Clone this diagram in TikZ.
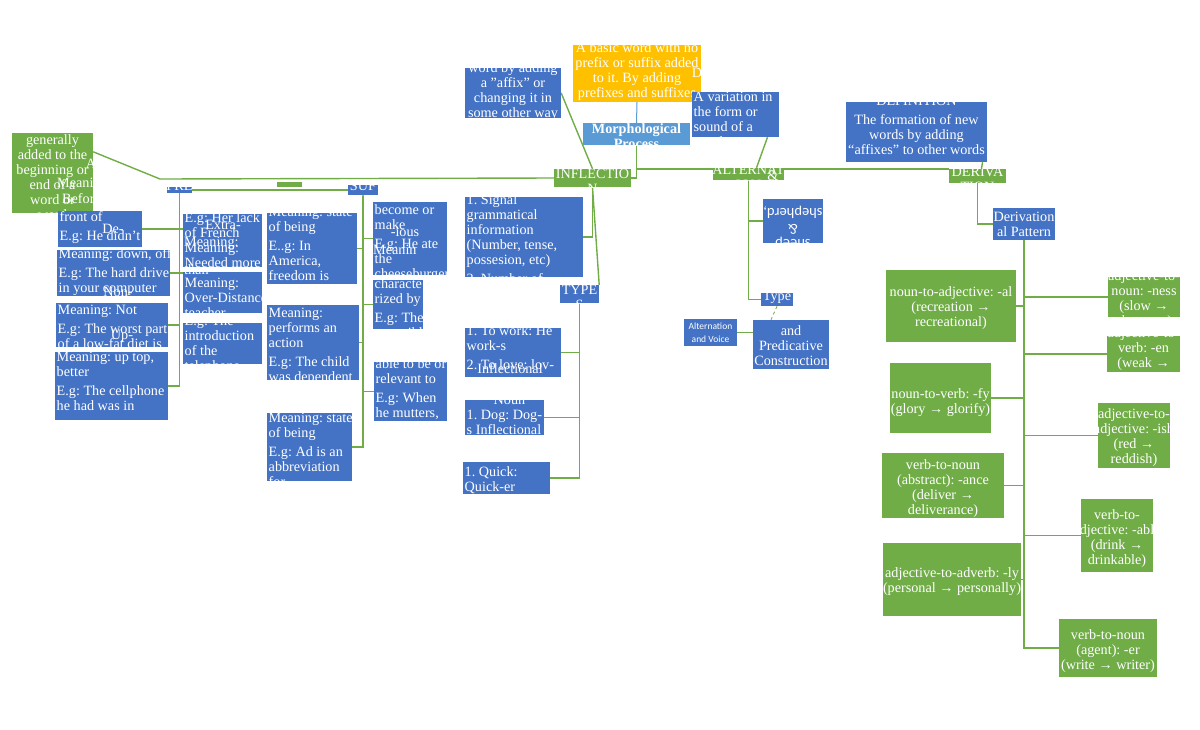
\documentclass[tikz,border=0pt]{standalone}
\usepackage{fontspec}
\setmainfont{Liberation Serif}
\newfontfamily\sansf{Carlito}
\usetikzlibrary{fit}
\pgfdeclarelayer{bg}
\pgfsetlayers{bg,main}
\definecolor{blu}{HTML}{4472C4}
\definecolor{grn}{HTML}{70AD47}
\definecolor{orng}{HTML}{FFC000}
\definecolor{lblu}{HTML}{5B9BD5}
\frenchspacing
\tikzset{
 txt/.style={text=white, font=\fontsize{14.2}{15}\selectfont, inner sep=0pt},
 ln/.style={draw=grn, line width=1.4pt},
 ov/.style={txt},
}
\def\bxleftword{left}
% name, x1, y1, x2, y2, fill, first-line centre y, align, text
\newcommand\bx[9]{%
 \fill[#6] (#2,#3) rectangle (#4,#5);
 \node[inner sep=0pt, fit={(#2,#3)(#4,#5)}] (#1) {};
 \begin{scope}
 \clip (#2,#3) rectangle (#4,#5);
 \pgfmathsetmacro\bxl{#2+1.5}
 \pgfmathsetmacro\bxc{(#2+#4)/2}
 \pgfmathsetmacro\bxt{#7-5}
 \def\bxarg{#8}%
 \ifx\bxarg\bxleftword
 \node[txt, anchor=north west, align=left] (#1-t) at (\bxl,\bxt) {#9};
 \else
 \node[txt, anchor=north, align=center] (#1-t) at (\bxc,\bxt) {#9};
 \fi
 \end{scope}}
\begin{document}
\begin{tikzpicture}[x=1pt,y=-1pt]
\useasboundingbox (0,0) rectangle (1200,729);
% left part
\bx{tlg}{12}{133}{93}{213}{grn}{139}{center}{generally\\added to the\\beginning or\\end of a\\word or\\word}
\bx{b1}{58}{211}{142}{247}{blu}{216}{left}{front of\\[4pt]E.g: He didn't}
\bx{b2}{57}{250}{170}{296}{blu}{253}{left}{Meaning: down, off\\[4pt]E.g: The hard drive\\in your computer}
\bx{b3}{56}{303}{168}{347}{blu}{310}{left}{Meaning: Not\\[4pt]E.g: The worst part\\of a low-fat diet is}
\bx{b4}{55}{352}{168}{420}{blu}{357}{left}{Meaning: up top,\\better\\[4pt]E.g: The cellphone\\he had was in}
\bx{r1}{183}{214}{262}{267}{blu}{217}{left}{E.g: Her lack\\of French\\Meaning:\\Needed more}
\bx{r2}{183}{272}{262}{313}{blu}{283}{left}{Meaning:\\Over-Distance\\teacher}
\bx{r3}{183}{323}{262}{364}{blu}{320}{left}{E.g: The\\introduction\\of the\\telephone}
\bx{m1}{267}{213}{357}{284}{blu}{212}{left}{Meaning: state\\of being\\[4pt]E..g: In\\America,\\freedom is}
\bx{m2}{267}{305}{359}{380}{blu}{313}{left}{Meaning:\\performs an\\action\\[4pt]E.g: The child\\was dependent}
\bx{m3}{267}{413}{352}{481}{blu}{418}{left}{Meaning: state\\of being\\[4pt]E.g: Ad is an\\abbreviation\\for}
\bx{n1}{373}{202}{447}{275}{blu}{209}{left}{become or\\make\\[4pt]E.g: He ate\\the\\cheeseburger}
\bx{n2}{373}{280}{423}{329}{blu}{283}{left}{characte\\rized by\\[4pt]E.g: The\\\hspace*{2em}-ible}
\bx{n3}{374}{362}{447}{421}{blu}{363}{left}{able to be or\\relevant to\\[4pt]E.g: When\\he mutters,}
\bx{pre}{167}{187}{192}{193}{blu}{186}{center}{PRE\\FIX}
\bx{suf}{348}{185}{378}{195}{blu}{186}{center}{SUF\\FIX}
\bx{inf}{277}{182}{302}{187}{grn}{180}{center}{}
% centre
\bx{infl}{554}{169}{631}{187}{grn}{174}{center}{INFLECTIO\\N}
\bx{wba}{465}{68}{561}{118}{blu}{67}{center}{word by adding\\a "affix" or\\changing it in\\some other way}
\bx{org}{573}{45}{701}{102}{orng}{47}{center}{A basic word with no\\prefix or suffix added\\to it. By adding\\prefixes and suffixes}
\bx{morph}{583}{123}{690}{145}{lblu}{128}{center}{\textbf{Morphological}\\\textbf{Process}}
\bx{var}{692}{92}{779}{137}{blu}{97}{left}{A variation in\\the form or\\sound of a\\word}
\bx{alt}{713}{168}{784}{180}{grn}{170}{center}{ALTERNAT\\ION}
\bx{der}{949}{169}{1006}{183}{grn}{172}{center}{DERIVA\\TION}
\bx{def}{846}{102}{987}{162}{blu}{101}{center}{DEFINITION\\[4pt]The formation of new\\words by adding\\“affixes” to other words}
\bx{dp}{993}{208}{1055}{240}{blu}{217}{center}{Derivation\\al Pattern}
\bx{i1}{465}{197}{583}{277}{blu}{199}{left}{1. Signal\\grammatical\\information\\(Number, tense,\\possesion, etc)\\[4pt]2. Number of}
\bx{types}{560}{285}{599}{303}{blu}{290}{center}{TYPE\\S}
\bx{i2}{465}{328}{561}{377}{blu}{330}{left}{1. To work: He\\work-s\\[4pt]2. To love: lov-\\e-s}
\bx{i3}{465}{400}{544}{435}{blu}{400}{left}{\hspace*{1.9em}Noun\\1. Dog: Dog-\\s Inflectional}
\bx{i4}{463}{462}{550}{494}{blu}{471}{left}{1. Quick:\\Quick-er}
% alternation
\fill[blu] (763,199) rectangle (823,243);
\node[inner sep=0pt, fit={(763,199)(823,243)}] (a1) {};
\begin{scope}
\clip (763,199) rectangle (823,243);
\node[txt, font=\sansf\fontsize{14.5}{15.5}\selectfont, rotate=180, align=center] (a1-t) at (793,228) {sheep\\\&\\shepherd,};
\end{scope}
\bx{typ}{761}{293}{793}{306}{blu}{296}{center}{Type}
\bx{pred}{753}{320}{829}{369}{blu}{330}{center}{and\\Predicative\\Construction}
\fill[blu] (684,319) rectangle (737,346);
\node[inner sep=0pt, fit={(684,319)(737,346)}] (av) {};
\node[txt, font=\sansf\fontsize{9.5}{12.5}\selectfont, align=center] (av-t) at (av.center) {Alternation\\and Voice};
% derivation patterns
\bx{nadj}{886}{270}{1016}{342}{grn}{291}{center}{noun-to-adjective: -al\\(recreation →\\recreational)}
\bx{anoun}{1108}{277}{1180}{317}{grn}{275}{center}{adjective-to-\\noun: -ness\\(slow →\\slowness)}
\bx{averb}{1107}{336}{1180}{372}{grn}{332}{center}{adjective-to-\\verb: -en\\(weak →\\weaken)}
\bx{nverb}{890}{363}{991}{433}{grn}{393}{center}{noun-to-verb: -fy\\(glory → glorify)}
\bx{aadj}{1098}{403}{1170}{468}{grn}{413}{center}{adjective-to-\\adjective: -ish\\(red →\\reddish)}
\bx{vnoun}{882}{453}{1004}{518}{grn}{464}{center}{verb-to-noun\\(abstract): -ance\\(deliver →\\deliverance)}
\bx{vadj}{1081}{499}{1153}{572}{grn}{514}{center}{verb-to-\\adjective: -able\\(drink →\\drinkable)}
\bx{aadv}{883}{543}{1021}{616}{grn}{572}{center}{adjective-to-adverb: -ly\\(personal → personally)}
\bx{agent}{1059}{619}{1157}{677}{grn}{634}{center}{verb-to-noun\\(agent): -er\\(write → writer)}
% overlapping texts
\node[ov] (o1) at (91,164) {A};
\node[ov, anchor=west] (o2) at (57,184) {Meaning};
\node[ov, anchor=west] (o3) at (62,199) {Before};
\node[ov] (o4) at (113,229) {De-};
\node[ov] (o5) at (118,292) {Non-};
\node[ov] (o6) at (122,336) {Up-};
\node[ov] (o7) at (223,225) {Extra-};
\node[ov, anchor=west] (o8) at (184,243) {Meaning:};
\node[ov, anchor=west] (o9) at (184,270) {than};
\node[ov] (o10) at (405,232) {-ious};
\node[ov, anchor=west] (o11) at (373,250) {Meanin};
\node[ov] (o12) at (510,369) {Inflectional};
\node[ov] (o13) at (773,176) {\&};
\node[ov] (o14) at (697,73) {D};
% connectors
\begin{pgfonlayer}{bg}
\coordinate (J0) at (160,179);
\draw[ln] ([yshift=-19pt]tlg.north east) -- (J0);
\draw[ln] (J0) -- (infl.west);
\draw[ln] (pre.east) -- (suf.west);
\draw[ln] (pre.south) |- (b4.east);
\draw[ln] (b1.east) -- (r1.west |- b1.east);
\draw[ln] (b2.east) -- (r2.west |- b2.east);
\draw[ln] (b3.east) -- (b3.east -| pre.south);
\draw[ln] (suf.south) |- (m3.east);
\draw[ln] (m1.east) -- (m1.east -| suf.south);
\draw[ln] (m2.east) -- (m2.east -| suf.south);
\draw[ln] (n1.west) -- (n1.west -| suf.south);
\draw[ln] (n2.west) -- (n2.west -| suf.south);
\draw[ln] (n3.west) -- (n3.west -| suf.south);
\draw[ln] (wba.east) -- (infl.north);
\draw[lblu, line width=1pt] (org.south) -- (morph.north);
\draw[ln] (morph.south) |- (infl.east);
\draw[ln] (morph.south) |- (der.north west);
\draw[ln] ([xshift=32pt]var.south) -- ([xshift=8pt]alt.north);
\draw[ln] ([xshift=66pt]def.south) -- ([xshift=4pt]der.north);
\draw[ln] (der.south) |- (dp.west);
\draw[ln] (dp.south) |- (agent.west);
\draw[ln] (nadj.east) -- (nadj.east -| dp.south);
\draw[ln] (anoun.west) -- (anoun.west -| dp.south);
\draw[ln] (averb.west) -- (averb.west -| dp.south);
\draw[ln] (nverb.east) -- (nverb.east -| dp.south);
\draw[ln] (aadj.west) -- (aadj.west -| dp.south);
\draw[ln] (vnoun.east) -- (vnoun.east -| dp.south);
\draw[ln] (vadj.west) -- (vadj.west -| dp.south);
\draw[ln] (aadv.east) -- (aadv.east -| dp.south);
\draw[ln] (infl.south) |- (i1.east);
\draw[ln] (infl.south) -- (types.north east);
\draw[ln] (types.south) |- (i4.east);
\draw[ln] (i2.east) -- (i2.east -| types.south);
\draw[ln] (i3.east) -- (i3.east -| types.south);
\draw[ln] (alt.south) |- (typ.west);
\draw[ln] (a1.west) -- (a1.west -| alt.south);
\draw[ln, line width=0.8pt, dashed] (typ.south) -- ([xshift=-20pt]pred.north);
\draw[ln] (av.east) -- (av.east -| pred.west);
\end{pgfonlayer}
\end{tikzpicture}
\end{document}
